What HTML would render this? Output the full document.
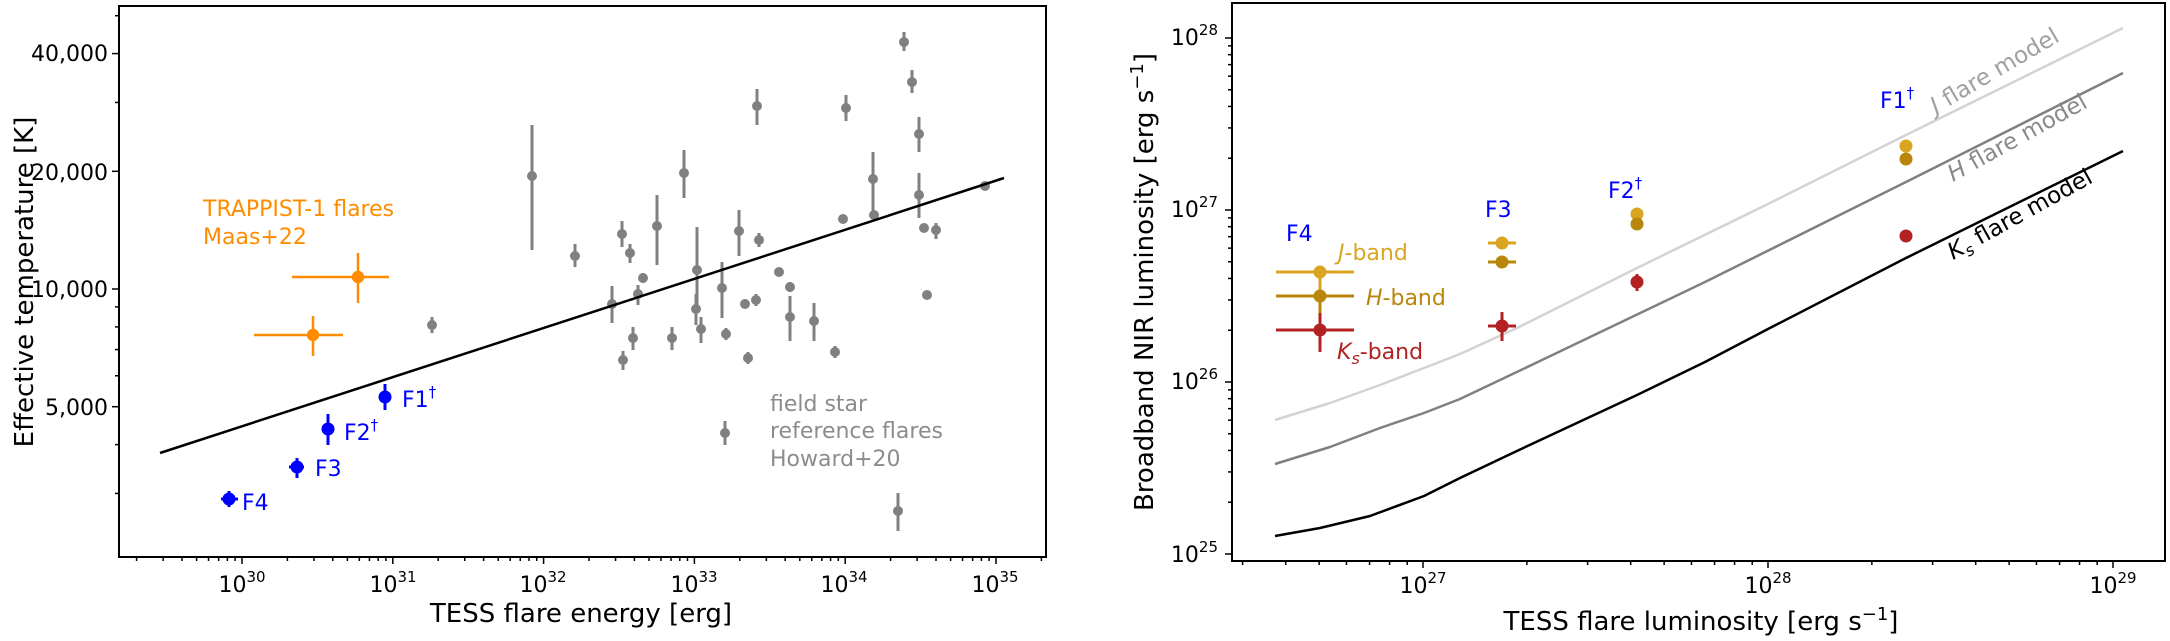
<!DOCTYPE html>
<html><head><meta charset="utf-8"><style>
html,body{margin:0;padding:0;background:#fff;}
svg{display:block;font-family:"DejaVu Sans","Liberation Sans",sans-serif;}
</style></head><body>
<svg id="s" width="2170" height="641" viewBox="0 0 2170 641" xmlns="http://www.w3.org/2000/svg">
<rect width="2170" height="641" fill="#fff"/>
<g id="ticks" stroke="#000" stroke-width="1.5"></g>

<!-- LEFT PANEL -->
<rect x="119" y="6" width="927" height="551" fill="none" stroke="#000" stroke-width="2"/>
<g font-size="22" text-anchor="end" fill="#000">
<text x="108" y="61">40,000</text>
<text x="108" y="180">20,000</text>
<text x="108" y="297">10,000</text>
<text x="108" y="415">5,000</text>
</g>
<g font-size="22" text-anchor="middle" fill="#000">
<text x="242" y="592">10<tspan dy="-10" font-size="15">30</tspan></text>
<text x="393" y="592">10<tspan dy="-10" font-size="15">31</tspan></text>
<text x="543" y="592">10<tspan dy="-10" font-size="15">32</tspan></text>
<text x="694" y="592">10<tspan dy="-10" font-size="15">33</tspan></text>
<text x="844" y="592">10<tspan dy="-10" font-size="15">34</tspan></text>
<text x="995" y="592">10<tspan dy="-10" font-size="15">35</tspan></text>
</g>
<text x="581" y="622" font-size="26" text-anchor="middle">TESS flare energy [erg]</text>
<text transform="translate(33,282) rotate(-90)" font-size="26" text-anchor="middle">Effective temperature [K]</text>

<g id="gray" stroke="#808080" stroke-width="3" fill="#808080"></g>
<line x1="160" y1="453" x2="1004" y2="178" stroke="#000" stroke-width="2.5"/>
<g stroke="#ff8c00" stroke-width="2.5" fill="#ff8c00">
<line x1="292" y1="277" x2="389" y2="277"/><line x1="358" y1="253" x2="358" y2="303"/><circle cx="358" cy="277" r="5"/>
<line x1="254" y1="335" x2="343" y2="335"/><line x1="313" y1="316" x2="313" y2="356"/><circle cx="313" cy="335" r="5"/>
</g>
<g font-size="22" fill="#ff8c00"><text x="203" y="216">TRAPPIST-1 flares</text><text x="203" y="244">Maas+22</text></g>
<g stroke="#0000ff" stroke-width="3" fill="#0000ff">
<line x1="385" y1="384" x2="385" y2="410"/><line x1="380" y1="397" x2="390" y2="397"/><circle cx="385" cy="397" r="5"/>
<line x1="328" y1="414" x2="328" y2="445"/><line x1="323" y1="429" x2="333" y2="429"/><circle cx="328" cy="429" r="5"/>
<line x1="289" y1="467" x2="304" y2="467"/><line x1="297" y1="458" x2="297" y2="478"/><circle cx="297" cy="467" r="5"/>
<line x1="221" y1="499" x2="238" y2="499"/><line x1="229" y1="491" x2="229" y2="507"/><circle cx="229" cy="499" r="5"/>
</g>
<g font-size="22" fill="#0000ff">
<text x="402" y="407">F1<tspan dy="-10" font-size="15">†</tspan></text>
<text x="344" y="440">F2<tspan dy="-10" font-size="15">†</tspan></text>
<text x="315" y="476">F3</text>
<text x="242" y="510">F4</text>
</g>
<g font-size="22" fill="#8c8c8c"><text x="770" y="411">field star</text><text x="770" y="438">reference flares</text><text x="770" y="466">Howard+20</text></g>

<!-- RIGHT PANEL -->
<rect x="1232" y="3" width="933" height="558" fill="none" stroke="#000" stroke-width="2"/>
<g font-size="22" text-anchor="end">
<text x="1218" y="45">10<tspan dy="-10" font-size="15">28</tspan></text>
<text x="1218" y="217">10<tspan dy="-10" font-size="15">27</tspan></text>
<text x="1218" y="389">10<tspan dy="-10" font-size="15">26</tspan></text>
<text x="1218" y="562">10<tspan dy="-10" font-size="15">25</tspan></text>
</g>
<g font-size="22" text-anchor="middle">
<text x="1423" y="593">10<tspan dy="-10" font-size="15">27</tspan></text>
<text x="1768" y="593">10<tspan dy="-10" font-size="15">28</tspan></text>
<text x="2113" y="593">10<tspan dy="-10" font-size="15">29</tspan></text>
</g>
<text x="1701" y="630" font-size="26" text-anchor="middle">TESS flare luminosity [erg s<tspan dy="-10" font-size="18">−1</tspan><tspan dy="10">]</tspan></text>
<text transform="translate(1153,282) rotate(-90)" font-size="26" text-anchor="middle">Broadband NIR luminosity [erg s<tspan dy="-10" font-size="18">−1</tspan><tspan dy="10">]</tspan></text>

<g fill="none" stroke-width="2.5" stroke-linejoin="round">
<polyline stroke="#d3d3d3" points="1275,420 1330,403 1380,385 1424,368 1460,354 1519,327 1637,268 1768,204 1906,135 2123,28"/>
<polyline stroke="#808080" points="1275,464 1330,447 1380,428 1424,413 1460,399 1542,360 1705,282 1906,182 2123,73"/>
<polyline stroke="#000" points="1275,536 1320,528 1370,516 1424,496 1460,478 1519,450 1637,395 1705,362 1768,329 1906,258 2123,151"/>
</g>
<g font-size="23">
<text transform="translate(1936,114) rotate(-30.5)" fill="#a0a0a0"><tspan font-style="italic">J</tspan> flare model</text>
<text transform="translate(1953,182) rotate(-29)" fill="#8a8a8a"><tspan font-style="italic">H</tspan> flare model</text>
<text transform="translate(1953,260) rotate(-29)" fill="#000"><tspan font-style="italic">K<tspan font-size="16" dy="5">s</tspan></tspan><tspan dy="-5"> flare model</tspan></text>
</g>

<g stroke-width="3">
<g stroke="#daa520" fill="#daa520"><line x1="1276" y1="272" x2="1354" y2="272"/><line x1="1320" y1="272" x2="1320" y2="296"/><circle cx="1320" cy="272" r="5"/></g>
<g stroke="#b8860b" fill="#b8860b"><line x1="1276" y1="296" x2="1354" y2="296"/><line x1="1320" y1="296" x2="1320" y2="313"/><circle cx="1320" cy="296" r="5"/></g>
<g stroke="#b22222" fill="#b22222"><line x1="1276" y1="330" x2="1354" y2="330"/><line x1="1320" y1="313" x2="1320" y2="352"/><circle cx="1320" cy="330" r="5"/></g>

<g stroke="#daa520" fill="#daa520"><line x1="1488" y1="243" x2="1516" y2="243"/><circle cx="1502" cy="243" r="5"/></g>
<g stroke="#b8860b" fill="#b8860b"><line x1="1488" y1="262" x2="1516" y2="262"/><line x1="1502" y1="257" x2="1502" y2="267"/><circle cx="1502" cy="262" r="5"/></g>
<g stroke="#b22222" fill="#b22222"><line x1="1488" y1="326" x2="1516" y2="326"/><line x1="1502" y1="312" x2="1502" y2="341"/><circle cx="1502" cy="326" r="5"/></g>

<g stroke="#daa520" fill="#daa520"><line x1="1637" y1="210" x2="1637" y2="218"/><circle cx="1637" cy="214" r="5"/></g>
<g stroke="#b8860b" fill="#b8860b"><circle cx="1637" cy="224" r="5"/></g>
<g stroke="#b22222" fill="#b22222"><line x1="1637" y1="274" x2="1637" y2="291"/><line x1="1632" y1="282" x2="1642" y2="282"/><circle cx="1637" cy="282" r="5"/></g>

<g stroke="#daa520" fill="#daa520"><circle cx="1906" cy="146" r="5"/></g>
<g stroke="#b8860b" fill="#b8860b"><circle cx="1906" cy="159" r="5"/></g>
<g stroke="#b22222" fill="#b22222"><circle cx="1906" cy="236" r="5"/></g>
</g>
<g font-size="22" fill="#0000ff">
<text x="1286" y="241">F4</text>
<text x="1485" y="217">F3</text>
<text x="1608" y="198">F2<tspan dy="-10" font-size="15">†</tspan></text>
<text x="1880" y="108">F1<tspan dy="-10" font-size="15">†</tspan></text>
</g>
<g font-size="22">
<text x="1338" y="260" fill="#daa520"><tspan font-style="italic">J</tspan>-band</text>
<text x="1366" y="305" fill="#b8860b"><tspan font-style="italic">H</tspan>-band</text>
<text x="1337" y="359" fill="#b22222"><tspan font-style="italic">K<tspan font-size="16" dy="5">s</tspan></tspan><tspan dy="-5">-band</tspan></text>
</g>
</svg>
<script>
(function(){
var NS="http://www.w3.org/2000/svg";
var t=document.getElementById("ticks");
function L(x1,y1,x2,y2){var l=document.createElementNS(NS,"line");l.setAttribute("x1",x1);l.setAttribute("y1",y1);l.setAttribute("x2",x2);l.setAttribute("y2",y2);t.appendChild(l);}
var k,d,x,y;
for(d=29;d<=35;d++)for(k=1;k<=9;k++){x=242+150.8*(d-30+Math.log10(k));if(x<120||x>1045)continue;L(x,557,x,557+(k==1?7:4));}
var ys=[3000,4000,5000,6000,7000,8000,9000,10000,20000,30000,40000,50000];
ys.forEach(function(v){y=289-391*Math.log10(v/1e4);var maj=(v==5000||v==10000||v==20000||v==40000);L(119,y,119-(maj?7:4),y);});
for(d=26;d<=29;d++)for(k=1;k<=9;k++){x=1423+345*(d-27+Math.log10(k));if(x<1233||x>2164)continue;L(x,561,x,561+(k==1?7:4));}
for(d=24;d<=28;d++)for(k=1;k<=9;k++){y=38+172*(28-d-Math.log10(k));if(y<4||y>560)continue;L(1232,y,1232-(k==1?7:4),y);}
var g=document.getElementById("gray");
var P=[[532,176,125,250],[432,325,317,333],[575,256,244,267],[612,304,286,323],[622,234,221,247],[630,253,244,263],[643,278,273,283],[638,294,285,305],[633,338,327,350],[623,360,351,370],[657,226,195,265],[684,173,150,198],[697,270,227,311],[696,309,294,325],[701,329,317,343],[672,338,327,350],[722,288,262,318],[726,334,328,340],[739,231,210,256],[745,304,300,308],[748,358,352,364],[725,433,421,445],[757,106,89,125],[756,300,294,306],[759,240,233,247],[904,42,32,51],[912,82,70,93],[846,108,95,121],[919,134,117,152],[873,179,152,215],[919,195,173,218],[843,219,215,223],[874,215,211,219],[924,228,224,232],[936,230,223,239],[779,272,268,276],[790,287,282,292],[790,317,296,341],[814,321,303,341],[835,352,346,358],[927,295,291,299],[898,511,493,531],[985,186,182,190]];
P.forEach(function(p){var l=document.createElementNS(NS,"line");l.setAttribute("x1",p[0]);l.setAttribute("x2",p[0]);l.setAttribute("y1",p[2]);l.setAttribute("y2",p[3]);g.appendChild(l);
var c=document.createElementNS(NS,"circle");c.setAttribute("cx",p[0]);c.setAttribute("cy",p[1]);c.setAttribute("r",5);c.setAttribute("stroke","none");g.appendChild(c);});
})();
</script>
</body></html>
